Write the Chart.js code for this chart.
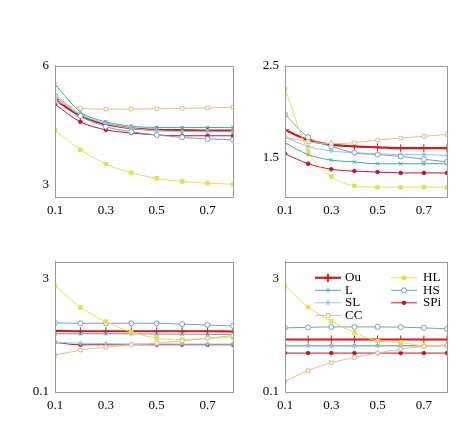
<!DOCTYPE html>
<html><head><meta charset="utf-8">
<script src="https://cdn.jsdelivr.net/npm/chart.js@4/dist/chart.umd.min.js"></script>
<style>
body{margin:0;background:#fff;width:474px;height:433px;position:relative;overflow:hidden}
.c{position:absolute}
</style></head><body>
<div class="c" style="left:0;top:52px;width:240px;height:169px"><canvas id="c1"></canvas></div>
<div class="c" style="left:237px;top:52px;width:237px;height:169px"><canvas id="c2"></canvas></div>
<div class="c" style="left:0;top:248px;width:240px;height:168px"><canvas id="c3"></canvas></div>
<div class="c" style="left:237px;top:248px;width:237px;height:168px"><canvas id="c4"></canvas></div>
<script>
const xs = [0.1,0.2,0.3,0.4,0.5,0.6,0.7,0.8];
const seriesNames = ['Ou','L','SL','CC','HL','HS','SPi'];
// panel 1 (top-left)
const p1_Ou  = [5.15,4.74,4.53,4.43,4.39,4.38,4.37,4.37];
const p1_L   = [5.53,4.84,4.59,4.48,4.45,4.45,4.45,4.45];
const p1_SL  = [5.28,4.78,4.55,4.43,4.37,4.35,4.34,4.34];
const p1_CC  = [5.11,4.93,4.91,4.91,4.92,4.93,4.94,4.96];
const p1_HL  = [4.38,3.89,3.53,3.31,3.17,3.09,3.05,3.02];
const p1_HS  = [5.24,4.74,4.47,4.34,4.26,4.20,4.16,4.14];
const p1_SPi = [5.03,4.59,4.39,4.31,4.26,4.24,4.24,4.24];
// panel 2 (top-right)
const p2_Ou  = [1.80,1.69,1.64,1.62,1.61,1.60,1.60,1.60];
const p2_L   = [1.66,1.53,1.47,1.45,1.43,1.43,1.43,1.43];
const p2_SL  = [1.72,1.62,1.57,1.55,1.54,1.53,1.53,1.52];
const p2_CC  = [1.72,1.67,1.65,1.66,1.69,1.71,1.73,1.75];
const p2_HL  = [2.25,1.57,1.29,1.19,1.175,1.175,1.175,1.175];
const p2_HS  = [1.97,1.72,1.62,1.55,1.53,1.51,1.48,1.45];
const p2_SPi = [1.54,1.43,1.37,1.35,1.34,1.33,1.33,1.33];
// panel 3 (bottom-left, log)
const p3_Ou  = [0.62,0.615,0.615,0.615,0.615,0.615,0.615,0.61];
const p3_L   = [0.57,0.57,0.57,0.57,0.565,0.565,0.56,0.56];
const p3_SL  = [0.44,0.43,0.425,0.42,0.42,0.42,0.42,0.42];
const p3_CC  = [0.30,0.35,0.38,0.41,0.43,0.46,0.50,0.54];
const p3_HL  = [2.39,1.26,0.82,0.60,0.50,0.48,0.50,0.51];
const p3_HS  = [0.79,0.78,0.78,0.78,0.78,0.76,0.74,0.72];
const p3_SPi = [0.44,0.41,0.41,0.41,0.41,0.41,0.41,0.41];
// panel 4 (bottom-right, log)
const p4_Ou  = [0.48,0.48,0.48,0.48,0.48,0.48,0.48,0.48];
const p4_L   = [0.40,0.40,0.40,0.40,0.40,0.40,0.40,0.40];
const p4_SL  = [0.395,0.395,0.395,0.395,0.395,0.395,0.395,0.395];
const p4_CC  = [0.137,0.19,0.24,0.28,0.32,0.36,0.39,0.41];
const p4_HL  = [2.39,1.27,0.83,0.59,0.46,0.44,0.40,0.40];
const p4_HS  = [0.68,0.69,0.70,0.70,0.70,0.695,0.68,0.66];
const p4_SPi = [0.32,0.32,0.32,0.32,0.32,0.32,0.32,0.32];
const xLabels = [0.1,0.3,0.5,0.7];

const styles = {
 Ou:{c:'#d7191c',w:2.2,p:'cross',r:4,fill:false},
 L:{c:'#3fa7a7',w:1,p:'crossRot',r:2.5,fill:false},
 SL:{c:'#92c8d6',w:1,p:'star',r:2.5,fill:false},
 CC:{c:'#dfc089',w:1,p:'rect',r:2.5,fill:false},
 HL:{c:'#e6e04a',w:1,p:'rect',r:2.5,fill:true},
 HS:{c:'#6f9fc9',w:1,p:'circle',r:2.5,fill:false},
 SPi:{c:'#c8102e',w:1,p:'circle',r:1.8,fill:true}
};
const order = ['CC','HL','HS','SL','L','SPi','Ou'];
function ds(data){
  return order.map(n=>{const s=styles[n];return {label:n,data:xs.map((x,i)=>({x,y:data[n][i]})),
    borderColor:s.c,borderWidth:s.w,pointStyle:s.p,pointRadius:s.r,pointBorderColor:s.c,
    pointBackgroundColor:s.fill?s.c:'#fff',pointBorderWidth:1,tension:0.3,cubicInterpolationMode:'monotone'};});
}
const font={family:'Liberation Serif',size:13};
const frame={id:'frame',afterDraw(ch){const a=ch.chartArea,ctx=ch.ctx;ctx.save();ctx.strokeStyle='#999';ctx.lineWidth=1;
  ctx.strokeRect(Math.round(a.left)+0.5,Math.round(a.top)+0.5,Math.round(a.right-a.left),Math.round(a.bottom-a.top));ctx.restore();}};
function make(id,data,ymin,ymax,yt,log,yw,rpad,legend){
  const plugins=[frame];
  if(legend){plugins.push({id:'lg',afterDraw(ch){
    const ctx=ch.ctx;ctx.save();ctx.font='13px Liberation Serif';ctx.fillStyle='#000';ctx.textBaseline='middle';
    const cols=[['Ou','L','SL','CC'],['HL','HS','SPi']];
    const x0=[ch.chartArea.left+30,ch.chartArea.left+106],y0=ch.chartArea.top+16;
    cols.forEach((col,ci)=>col.forEach((n,ri)=>{
      const s=styles[n],y=y0+ri*12.5,x=x0[ci];
      ctx.strokeStyle=s.c;ctx.lineWidth=s.w;ctx.beginPath();ctx.moveTo(x,y);ctx.lineTo(x+26,y);ctx.stroke();
      ctx.fillStyle=s.fill?s.c:'#fff';
      Chart.helpers.drawPoint(ctx,{pointStyle:s.p,radius:s.r,borderWidth:1},x+13,y);
      if(s.fill)ctx.fill();
      ctx.fillStyle='#000';ctx.fillText(n,x+ (ci==0?30:32),y);
    }));ctx.restore();}});}
  new Chart(document.getElementById(id),{type:'line',data:{datasets:ds(data)},plugins,
    options:{responsive:true,maintainAspectRatio:false,animation:false,
     layout:{padding:{top:10,right:rpad,left:0,bottom:0}},
     plugins:{legend:{display:false},tooltip:{enabled:false}},
     scales:{
      x:{type:'linear',min:0.1,max:0.8,grid:{display:false,drawTicks:false},border:{color:'#999'},
        afterBuildTicks:a=>{a.ticks=xLabels.map(v=>({value:v}));},
        ticks:{font,color:'#000',padding:6,callback:v=>v.toFixed(1)},afterFit:a=>{a.height=24;}},
      y:{type:log?'logarithmic':'linear',min:ymin,max:ymax,grid:{display:false,drawTicks:false},border:{color:'#999'},
        afterBuildTicks:a=>{a.ticks=yt.map(v=>({value:v}));},
        ticks:{font,color:'#000',padding:6,callback:v=>String(v)},afterFit:a=>{a.width=yw;}}
     }}});
}
const pack=(a)=>({Ou:a[0],L:a[1],SL:a[2],CC:a[3],HL:a[4],HS:a[5],SPi:a[6]});
make('c1',pack([p1_Ou,p1_L,p1_SL,p1_CC,p1_HL,p1_HS,p1_SPi]),2.7,6,[3,6],false,55,7);
make('c2',pack([p2_Ou,p2_L,p2_SL,p2_CC,p2_HL,p2_HS,p2_SPi]),1.067,2.5,[1.5,2.5],false,48,27);
make('c3',pack([p3_Ou,p3_L,p3_SL,p3_CC,p3_HL,p3_HS,p3_SPi]),0.1,4.9,[0.1,3],true,55,7);
make('c4',pack([p4_Ou,p4_L,p4_SL,p4_CC,p4_HL,p4_HS,p4_SPi]),0.1,4.9,[0.1,3],true,48,27,true);
</script></body></html>
